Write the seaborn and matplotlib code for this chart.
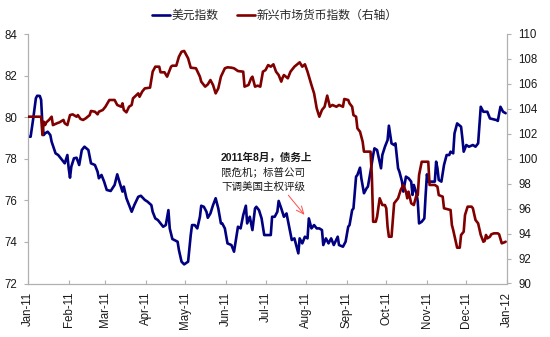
import matplotlib
matplotlib.use("Agg")
import matplotlib.pyplot as plt
import matplotlib.dates as mdates
import seaborn as sns
import pandas as pd

# ---------------- data ----------------
usd_dates = [
    "01-01", "01-03", "01-05", "01-07", "01-08", "01-10", "01-11", "01-12", "01-13", "01-14", "01-16", "01-18",
    "01-19", "01-22", "01-24", "01-27", "01-29", "01-31",
    "02-01", "02-02", "02-03", "02-05", "02-07", "02-09", "02-11", "02-13", "02-16", "02-18", "02-21", "02-23",
    "02-24", "02-26", "02-28",
    "03-02", "03-05", "03-08", "03-10", "03-12", "03-14", "03-15", "03-17", "03-19", "03-21", "03-23", "03-26",
    "03-28", "03-31",
    "04-02", "04-05", "04-06", "04-08", "04-10", "04-12", "04-14", "04-16", "04-18", "04-19", "04-21", "04-25",
    "04-26", "04-28", "04-30",
    "05-03", "05-05", "05-06", "05-08", "05-10", "05-12", "05-13", "05-15", "05-17", "05-18", "05-20", "05-22",
    "05-24", "05-26", "05-28", "05-29", "05-31",
    "06-02", "06-05", "06-07", "06-09", "06-10", "06-12", "06-14", "06-16", "06-17", "06-19", "06-21", "06-23",
    "06-24", "06-26", "06-28", "06-30",
    "07-03", "07-05", "07-06", "07-08", "07-10", "07-11", "07-13", "07-15", "07-17", "07-19", "07-21", "07-23",
    "07-26", "07-27", "07-29", "07-31",
    "08-02", "08-03", "08-05", "08-07", "08-09", "08-11", "08-13", "08-14", "08-16", "08-18", "08-20", "08-22",
    "08-25", "08-26", "08-29", "08-31",
    "09-02", "09-03", "09-05", "09-06", "09-08", "09-09", "09-11", "09-12", "09-14", "09-16", "09-17", "09-19",
    "09-21", "09-22", "09-24", "09-27", "09-28", "09-30",
    "10-02", "10-03", "10-05", "10-07", "10-08", "10-10", "10-11", "10-13", "10-14", "10-16", "10-18", "10-20",
    "10-21", "10-22", "10-24", "10-25", "10-26", "10-28", "10-30", "10-31",
    "11-01", "11-02", "11-05", "11-07", "11-08", "11-09", "11-10", "11-12", "11-14", "11-16", "11-18", "11-19",
    "11-21", "11-22", "11-24", "11-27", "11-28", "11-29",
    "12-01", "12-03", "12-06", "12-08", "12-10", "12-12", "12-14", "12-17", "12-19", "12-21", "12-24", "12-25",
    "12-27", "12-29", "12-31",
]
usd_values = [
    79.06, 79.06, 79.94, 80.91, 81.03, 81.02, 80.83, 79.62, 79.14, 79.22, 79.30, 79.14,
    78.82, 78.26, 78.18, 77.94, 77.78, 78.18,
    77.54, 77.09, 77.62, 78.02, 78.05, 77.70, 78.42, 78.58, 78.42, 77.78, 77.70, 77.38,
    77.06, 77.22, 76.90,
    76.50, 76.45, 76.74, 77.25, 76.82, 76.42, 76.66, 76.10, 75.77, 75.45, 75.77, 76.17,
    76.22, 76.02,
    75.94, 75.77, 75.45, 75.13, 75.05, 74.89, 74.73, 74.81, 75.53, 74.65, 74.14, 74.01,
    73.61, 73.05, 72.92,
    73.05, 74.33, 74.81, 74.81, 74.65, 75.21, 75.74, 75.69, 75.45, 75.16, 75.37, 75.77,
    76.10, 75.61, 74.89, 74.89, 74.65,
    73.93, 73.85, 73.53, 74.33, 74.73, 74.65, 75.29, 75.74, 74.89, 75.21, 74.57, 75.61,
    75.69, 75.53, 75.13, 74.33,
    74.33, 74.33, 75.21, 75.21, 75.45, 75.97, 75.61, 75.21, 75.37, 74.73, 74.09, 74.17,
    73.45, 74.17, 73.93, 74.25,
    74.17, 75.13, 74.65, 74.81, 74.65, 74.65, 74.57, 73.85, 74.17, 73.93, 74.17, 73.85,
    74.25, 73.85, 73.77, 74.01,
    74.73, 74.81, 75.53, 75.61, 77.14, 77.22, 77.57, 77.06, 76.34, 76.58, 76.66, 77.38,
    78.18, 78.50, 78.42, 77.54, 78.18, 78.58,
    78.90, 79.59, 78.74, 78.66, 78.74, 77.54, 77.38, 76.90, 76.42, 77.14, 77.06, 76.90,
    76.26, 76.74, 76.34, 75.94, 74.89, 74.97, 75.13, 76.26,
    77.25, 76.90, 76.90, 76.90, 77.86, 77.54, 76.98, 76.90, 77.70, 78.18, 78.18, 78.34,
    78.26, 79.22, 79.70, 79.54, 78.98, 78.34,
    78.66, 78.58, 78.66, 78.58, 78.74, 80.50, 80.26, 80.26, 79.94, 79.91, 79.86, 79.82,
    80.50, 80.26, 80.19,
]

em_dates = [
    "01-01", "01-09", "01-11", "01-12", "01-13", "01-14", "01-15", "01-17", "01-19", "01-20", "01-23", "01-25",
    "01-28", "01-29", "01-31",
    "02-02", "02-04", "02-07", "02-08", "02-10", "02-12", "02-14", "02-17", "02-18", "02-21", "02-23", "02-24",
    "02-27",
    "03-01", "03-04", "03-08", "03-10", "03-13", "03-14", "03-15", "03-17", "03-19", "03-21", "03-22", "03-26",
    "03-27", "03-29", "03-31",
    "04-04", "04-06", "04-08", "04-11", "04-12", "04-15", "04-17", "04-20", "04-21", "04-24", "04-26", "04-28",
    "04-30",
    "05-03", "05-05", "05-09", "05-12", "05-13", "05-16", "05-18", "05-20", "05-22", "05-24", "05-26", "05-28",
    "05-31",
    "06-02", "06-05", "06-07", "06-10", "06-14", "06-15", "06-18", "06-20", "06-21", "06-23", "06-25", "06-27",
    "06-29",
    "07-01", "07-03", "07-05", "07-07", "07-09", "07-11", "07-13", "07-14", "07-15", "07-18", "07-20", "07-23",
    "07-27", "07-29", "07-31",
    "08-02", "08-05", "08-07", "08-09", "08-11", "08-13", "08-15", "08-17", "08-19", "08-21", "08-24", "08-26",
    "08-29", "08-30",
    "09-02", "09-03", "09-05", "09-06", "09-08", "09-09", "09-11", "09-13", "09-14", "09-19", "09-20", "09-21",
    "09-23", "09-24", "09-26", "09-28", "09-30",
    "10-01", "10-02", "10-03", "10-05", "10-07", "10-08", "10-10", "10-12", "10-14", "10-16", "10-17", "10-18",
    "10-20", "10-22", "10-24", "10-25", "10-26", "10-28",
    "11-02", "11-03", "11-07", "11-09", "11-10", "11-13", "11-14", "11-19", "11-20", "11-21", "11-23", "11-24",
    "11-26", "11-27", "11-29", "11-30",
    "12-02", "12-05", "12-06", "12-08", "12-10", "12-12", "12-14", "12-15", "12-16", "12-17", "12-19", "12-20",
    "12-22", "12-25", "12-26", "12-28", "12-30", "12-31",
]
em_values = [
    103.37, 103.37, 103.37, 101.90, 102.97, 102.70, 102.92, 103.11, 103.37, 102.70, 102.84, 102.92,
    103.11, 102.84, 102.70,
    103.50, 103.56, 103.37, 103.50, 103.19, 103.11, 103.24, 103.50, 103.83, 103.77, 103.56, 103.77,
    103.91,
    104.17, 104.71, 104.71, 104.31, 104.17, 104.44, 103.91, 103.72, 104.17, 104.31, 104.84, 105.24,
    104.97, 105.38, 105.64,
    105.70, 106.98, 107.38, 107.38, 106.93, 106.93, 106.58, 107.38, 107.46, 107.46, 108.18, 108.58,
    108.64,
    108.05, 107.30, 107.25, 106.58, 106.18, 105.78, 105.96, 106.31, 105.91, 105.24, 105.64, 106.58,
    107.25,
    107.33, 107.30, 107.25, 107.03, 106.98, 105.78, 105.91, 106.45, 106.58, 105.78, 105.86, 105.78,
    106.98,
    107.11, 107.51, 107.38, 107.57, 106.98, 106.71, 106.18, 106.50, 106.71, 106.45, 106.98, 107.38,
    107.73, 107.38, 107.57,
    106.98, 105.91, 105.24, 104.04, 103.37, 103.91, 104.17, 105.06, 104.17, 104.31, 104.17, 104.31,
    104.17, 104.79,
    104.71, 104.44, 104.17, 103.50, 103.37, 102.44, 102.17, 101.37, 100.57, 100.57, 98.70, 94.95,
    94.95, 95.35, 96.83, 96.29, 96.29,
    96.03, 94.55, 93.75, 93.75, 96.43, 96.56, 96.83, 97.50, 97.90, 97.36, 96.83, 97.36,
    96.43, 96.29, 97.09, 97.09, 98.70, 99.76,
    99.76, 97.90, 97.90, 97.76, 97.09, 96.96, 96.03, 95.89, 94.69, 94.29, 93.35, 92.87,
    92.87, 93.89, 94.15, 95.49,
    96.16, 96.16, 96.03, 95.09, 94.82, 93.89, 93.35, 93.41, 93.89, 93.62, 93.75, 93.94,
    94.02, 94.02, 93.94, 93.22, 93.30, 93.35,
]

usd_label = "美元指数"
em_label = "新兴市场货币指数（右轴）"
note_lines = ["2011年8月，债务上", "限危机；标普公司", "下调美国主权评级"]
month_ticks = pd.date_range("2011-01-01", "2012-01-01", freq="MS")

# ---------------- style ----------------
sns.set_theme(style="white")
plt.rcParams["font.family"] = ["Liberation Sans", "Noto Sans CJK SC", "DejaVu Sans"]

df_usd = pd.DataFrame({"date": pd.to_datetime(["2011-" + d for d in usd_dates]), "value": usd_values})
df_em = pd.DataFrame({"date": pd.to_datetime(["2011-" + d for d in em_dates]), "value": em_values})

fig = plt.figure(figsize=(5.5, 3.37), dpi=100)
ax = fig.add_axes([28 / 550, 1 - 283.5 / 337, (507 - 28) / 550, (283.5 - 34) / 337])
ax2 = ax.twinx()

blue = "#000080"
red = "#800000"
sns.lineplot(data=df_usd, x="date", y="value", ax=ax, color=blue, lw=1.9, label=usd_label, legend=False)
sns.lineplot(data=df_em, x="date", y="value", ax=ax2, color=red, lw=1.9, label=em_label, legend=False)

ax.set_xlim(pd.Timestamp("2011-01-01"), pd.Timestamp("2012-01-01"))
ax.set_ylim(72, 84)
ax.set_yticks(range(72, 85, 2))
ax2.set_ylim(90, 110)
ax2.set_yticks(range(90, 111, 2))
ax.set_xticks(month_ticks)
ax.xaxis.set_major_formatter(mdates.DateFormatter("%b-%y"))
for a in (ax, ax2):
    a.set_xlabel("")
    a.set_ylabel("")

spine_c = "#b0b0b0"
ax.spines["top"].set_visible(False)
ax.spines["right"].set_visible(False)
for s in ("left", "bottom"):
    ax.spines[s].set_color(spine_c)
    ax.spines[s].set_linewidth(0.9)
for s in ("top", "left", "bottom"):
    ax2.spines[s].set_visible(False)
ax2.spines["right"].set_color(spine_c)
ax2.spines["right"].set_linewidth(0.9)

txt_c = "#1a1a1a"
ax.tick_params(axis="y", left=True, direction="out", length=3, width=0.8, color=spine_c,
               labelsize=8.3, labelcolor=txt_c, pad=5)
ax.tick_params(axis="x", bottom=True, direction="in", length=3, width=0.8, color=spine_c,
               labelsize=8.3, labelcolor=txt_c, pad=6, labelrotation=90)
ax2.tick_params(axis="y", right=True, direction="out", length=3, width=0.8, color=spine_c,
                labelsize=8.3, labelcolor=txt_c, pad=5)
for lab in ax.get_xticklabels():
    lab.set_horizontalalignment("center")

ax.grid(False)
ax2.grid(False)

# annotation
note_x = pd.Timestamp("2011-05-28")
ax.text(note_x, 78.04, note_lines[0], fontsize=7.6, fontweight="bold", color=txt_c, va="center", ha="left")
ax.text(note_x, 77.36, note_lines[1], fontsize=7.6, color=txt_c, va="center", ha="left")
ax.text(note_x, 76.68, note_lines[2], fontsize=7.6, color=txt_c, va="center", ha="left")
ax.annotate("", xy=(pd.Timestamp("2011-08-01"), 75.2), xytext=(pd.Timestamp("2011-07-17"), 76.35),
            arrowprops=dict(arrowstyle="->,head_length=0.45,head_width=0.2", color="#ff4d4d", lw=0.7))

# legend
handles = ax.get_lines()[:1] + ax2.get_lines()[:1]
fig.legend(handles, [usd_label, em_label], loc="center", bbox_to_anchor=(0.5, 1 - 16 / 337), ncol=2,
           frameon=False, fontsize=8.5, handlelength=1.5, handletextpad=0.15, columnspacing=1.6)

fig.savefig("out.png", dpi=100, facecolor="white")
